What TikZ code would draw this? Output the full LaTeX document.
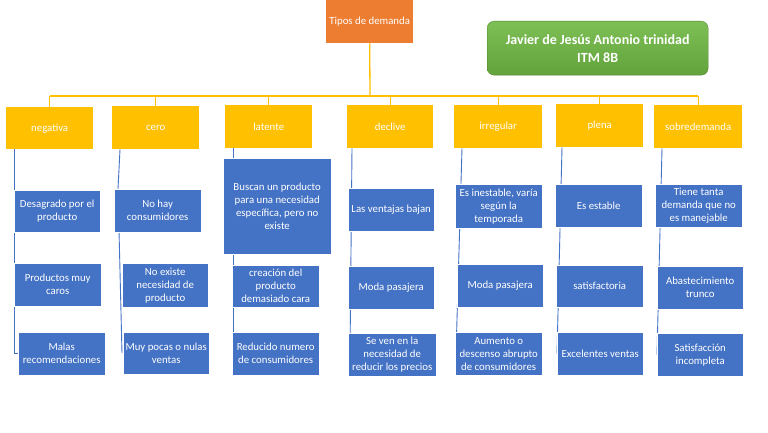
\documentclass[tikz,border=0pt]{standalone}
\usepackage{fontspec}
\setmainfont{Carlito}
\usetikzlibrary{backgrounds}
\definecolor{yel}{HTML}{FFC000}
\definecolor{ora}{HTML}{ED7D31}
\definecolor{blu}{HTML}{4472C4}
\definecolor{grnA}{HTML}{7DBF55}
\definecolor{grnB}{HTML}{62A33C}
\tikzset{
  box/.style={anchor=north west, inner sep=1pt, align=center, text=white,
     font=\fontsize{10.8}{13}\selectfont},
  catbox/.style={box, fill=yel},
  bbox/.style={box, fill=blu, draw=white, line width=0.4pt},
  topbox/.style={box, fill=ora},
  ylink/.style={draw=yel, line width=1.3pt},
  blink/.style={draw=blu, line width=0.9pt},
}
\begin{document}
\begin{tikzpicture}[x=1pt,y=-1pt]
\useasboundingbox (0,0) rectangle (768,433);

\node[topbox, minimum width=87, minimum height=43] (top) at (326,0) {Tipos de demanda};

\node[anchor=north west, minimum width=221, minimum height=54, rounded corners=7pt,
      top color=grnA, bottom color=grnB, draw=grnB!80!black, line width=0.3pt,
      text=white, align=center, font=\bfseries\fontsize{14}{18}\selectfont] (name) at (487,21)
      {Javier de Jesús Antonio trinidad\\ITM 8B};

% categories
\node[catbox, minimum width=87, minimum height=42] (cN) at (6,107) {negativa};
\node[catbox, minimum width=87, minimum height=43] (cC) at (112,106) {cero};
\node[catbox, minimum width=87, minimum height=43] (cL) at (225,105) {latente};
\node[catbox, minimum width=86, minimum height=43] (cD) at (347,105) {declive};
\node[catbox, minimum width=88, minimum height=43] (cI) at (454,105) {irregular};
\node[catbox, minimum width=87, minimum height=43] (cP) at (556,104) {plena};
\node[catbox, minimum width=88, minimum height=43] (cS) at (654,105) {sobredemanda};

% blue boxes
\node[bbox, minimum width=86, minimum height=42] (n1) at (14,190) {Desagrado por el\\producto};
\node[bbox, minimum width=87, minimum height=43] (n2) at (14,263) {Productos muy\\caros};
\node[bbox, minimum width=87, minimum height=43] (n3) at (18,332) {Malas\\recomendaciones};

\node[bbox, minimum width=87, minimum height=43] (c1) at (114,189) {No hay\\consumidores};
\node[bbox, minimum width=86, minimum height=44] (c2) at (122,263) {No existe\\necesidad de\\producto};
\node[bbox, minimum width=86, minimum height=42] (c3) at (123,332) {Muy pocas o nulas\\ventas};

\node[bbox, minimum width=108, minimum height=96] (l1) at (223,158) {Buscan un producto\\para una necesidad\\específica, pero no\\existe};
\node[bbox, minimum width=87, minimum height=42] (l2) at (232,265) {creación del\\producto\\demasiado cara};
\node[bbox, minimum width=87, minimum height=43] (l3) at (232,332) {Reducido numero\\de consumidores};

\node[bbox, minimum width=86, minimum height=43] (d1) at (348,188) {Las ventajas bajan};
\node[bbox, minimum width=86, minimum height=43] (d2) at (348,266) {Moda pasajera};
\node[bbox, minimum width=88, minimum height=43] (d3) at (348,333) {Se ven en la\\necesidad de\\reducir los precios};

\node[bbox, minimum width=87, minimum height=44] (i1) at (455,184) {Es inestable, varía\\según la\\temporada};
\node[bbox, minimum width=86, minimum height=43] (i2) at (457,264) {Moda pasajera};
\node[bbox, minimum width=87, minimum height=43] (i3) at (455,332) {Aumento o\\descenso abrupto\\de consumidores};

\node[bbox, minimum width=87, minimum height=43] (p1) at (555,184) {Es estable};
\node[bbox, minimum width=87, minimum height=42] (p2) at (556,265) {satisfactoria};
\node[bbox, minimum width=86, minimum height=43] (p3) at (557,332) {Excelentes ventas};

\node[bbox, minimum width=87, minimum height=43] (s1) at (655,184) {Tiene tanta\\demanda que no\\es manejable};
\node[bbox, minimum width=86, minimum height=43] (s2) at (657,266) {Abastecimiento\\trunco};
\node[bbox, minimum width=86, minimum height=43] (s3) at (657,333) {Satisfacción\\incompleta};

\coordinate (bar) at (370,96);

\begin{scope}[on background layer]
  \fill[white] (0,0) rectangle (768,433);
  % yellow org connectors
  \draw[ylink] (top.south) -- (bar);
  \draw[ylink] (cN.north |- bar) -- (cS.north |- bar);
  \foreach \c in {cN,cC,cL,cD,cI,cP,cS} \draw[ylink] (\c.north) -- (\c.north |- bar);
  % blue connectors
  \draw[blink] ([xshift=8]cN.south west) -- ([xshift=8]cN.south west |- n3.west) -- (n3.west);
  \draw[blink] ([xshift=8]cC.south west) -- ([xshift=4]c1.north west) -- ([xshift=-1]c3.west);
  \draw[blink] ([xshift=8]cL.south west) -- ([xshift=1]l3.west);
  \draw[blink] ([xshift=5]cD.south west) -- ([xshift=2]d3.west);
  \draw[blink] ([xshift=8]cI.south west) -- ([xshift=1]i3.west);
  \draw[blink] ([xshift=6]cP.south west) -- (p3.west);
  \draw[blink] ([xshift=8]cS.south west) -- (s3.west);
\end{scope}
\end{tikzpicture}
\end{document}
